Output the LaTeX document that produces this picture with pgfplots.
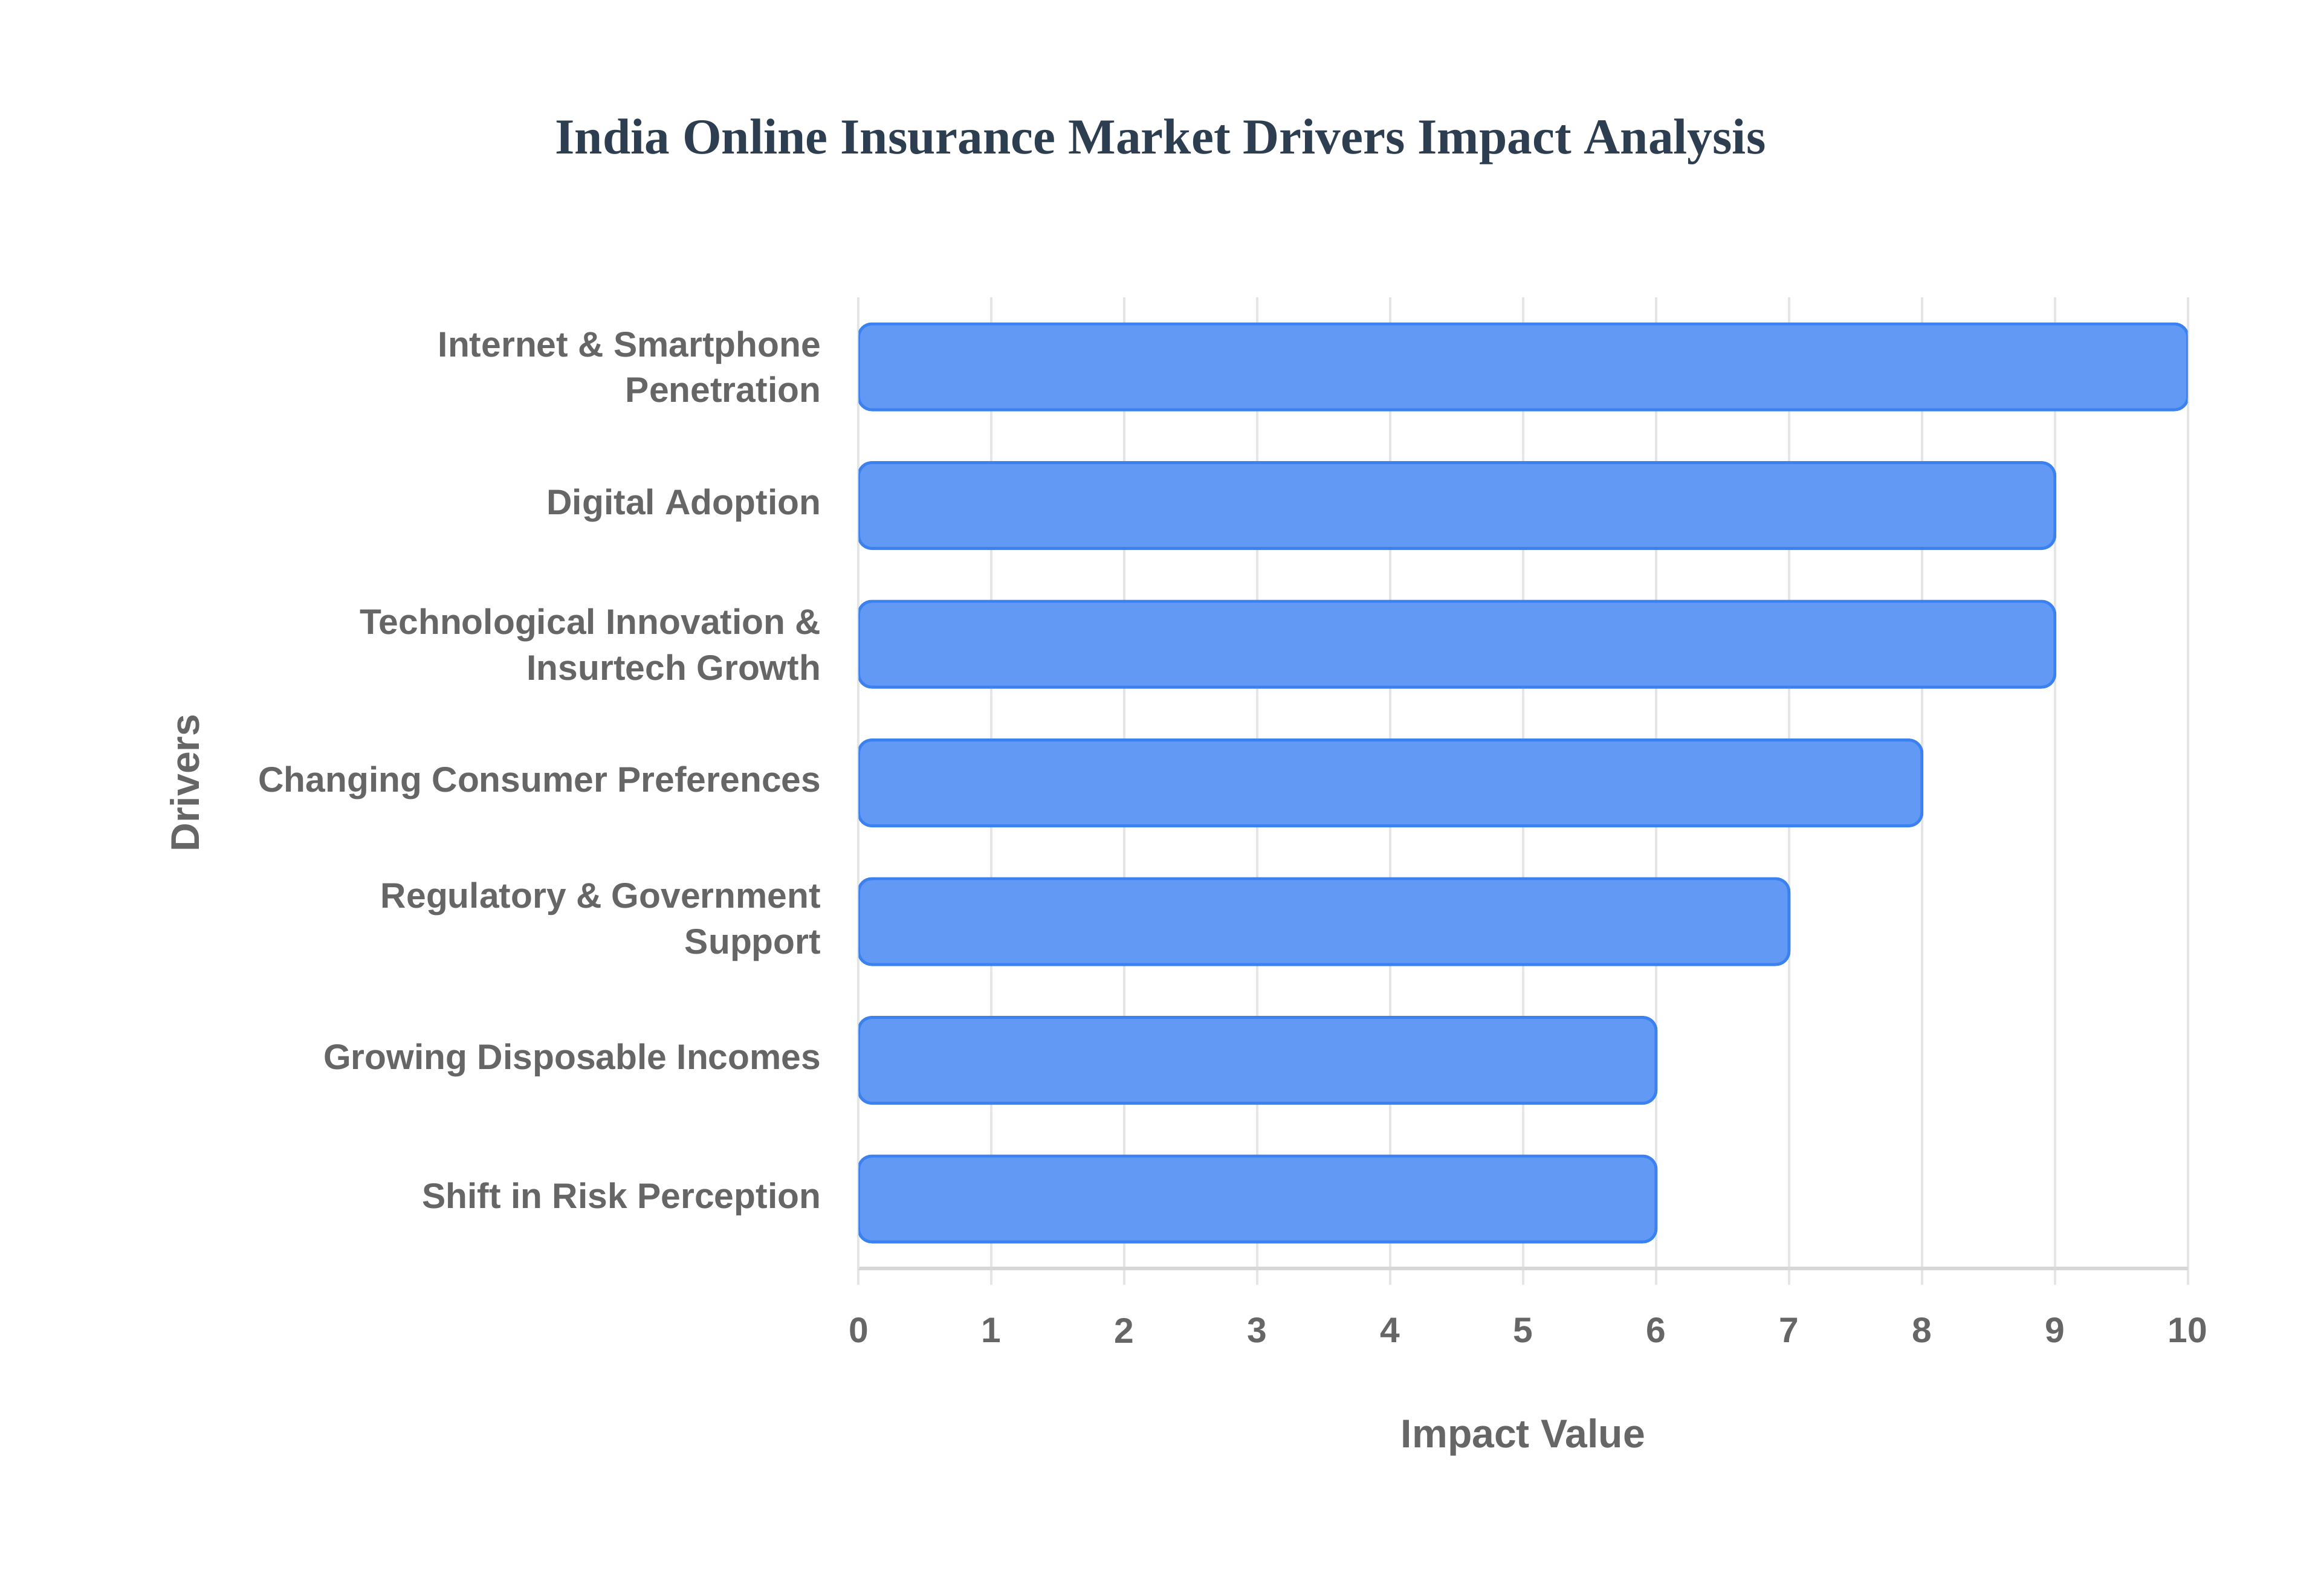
\documentclass[border=0pt]{standalone}
\usepackage{fontspec}
\setmainfont{Liberation Sans}
\newfontfamily\titlefont{Liberation Serif}
\usepackage{pgfplots}
\pgfplotsset{compat=1.18}

\definecolor{barfill}{RGB}{98,153,245}
\definecolor{baredge}{RGB}{59,130,240}
\definecolor{gridc}{RGB}{229,229,229}
\definecolor{axisc}{RGB}{215,215,215}
\definecolor{labc}{RGB}{102,102,102}
\definecolor{titlec}{RGB}{44,62,80}

\begin{document}
\begin{tikzpicture}
\useasboundingbox (0,0) rectangle (784pt,539pt);
\node[font=\titlefont\bfseries\fontsize{17}{20}\selectfont, text=titlec] at (392pt,491pt) {India Online Insurance Market Drivers Impact Analysis};
\begin{axis}[
  at={(290pt,110.5pt)}, anchor=south west,
  width=449pt, height=328pt, scale only axis,
  xbar, bar width=29pt,
  xmin=0, xmax=10, ymin=-0.5, ymax=6.5, y dir=reverse,
  axis x line*=bottom, axis y line*=left,
  x axis line style={axisc, line width=1.2pt, -},
  y axis line style={gridc, line width=0.8pt, -},
  xtick={0,1,...,10}, ytick={0,1,...,6},
  yticklabels={{Internet \& Smartphone\\Penetration},{Digital Adoption},{Technological Innovation \&\\Insurtech Growth},{Changing Consumer Preferences},{Regulatory \& Government\\Support},{Growing Disposable Incomes},{Shift in Risk Perception}},
  xmajorgrids, grid style={gridc, line width=0.8pt},
  tick align=outside, major tick length=5.5pt,
  xtick style={gridc, line width=0.8pt},
  ytick style={draw=none},
  xticklabel style={font=\bfseries\fontsize{12}{14}\selectfont, text=labc, anchor=center, yshift=-15.5pt},
  yticklabel style={font=\bfseries\fontsize{12}{15.5}\selectfont, text=labc, align=right, anchor=east, inner sep=0pt, xshift=-7pt},
  xlabel={Impact Value}, ylabel={Drivers},
  xlabel style={font=\bfseries\fontsize{13.5}{16}\selectfont, text=labc, at={(axis description cs:0.5,-0.1738)}, anchor=center},
  ylabel style={font=\bfseries\fontsize{13.5}{16}\selectfont, text=labc, at={(axis description cs:-0.5067,0.5)}, anchor=center},
  /pgf/number format/assume math mode=true,
]
\addplot[fill=barfill, draw=baredge, line width=1pt, rounded corners=4.5pt] coordinates {
  (10,0) (9,1) (9,2) (8,3) (7,4) (6,5) (6,6)
};
\end{axis}
\end{tikzpicture}
\end{document}
